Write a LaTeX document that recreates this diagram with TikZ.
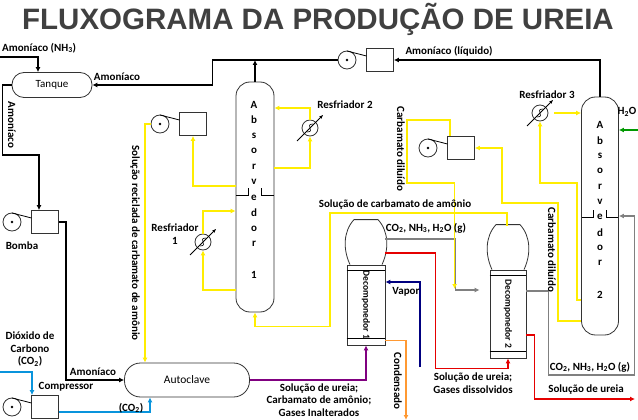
\documentclass[tikz,border=0pt]{standalone}
\usepackage{fontspec}
\setmainfont{Carlito}
\newfontfamily\titlefont{Liberation Sans}
\usetikzlibrary{positioning,calc,arrows.meta}
\tikzstyle{blk}=[line width=1.6pt, black, -{Latex[length=5pt,width=5pt]}]
\tikzstyle{ama}=[line width=1.6pt, yellow!95!orange, -{Latex[length=5pt,width=5pt]}]
\tikzstyle{cin}=[line width=1.6pt, gray, -{Latex[length=5pt,width=5pt]}]
\tikzstyle{equip}=[draw=black!80, thick, fill=white]
\tikzstyle{lbl}=[font=\fontsize{11}{12.5}\selectfont\bfseries, align=center, inner sep=1pt]
\tikzset{
  pics/bomba/.style={code={
    \node[equip, minimum width=27pt, minimum height=23pt] (-box) at (33,0) {};
    \node[equip, circle, minimum size=18pt, inner sep=0pt] (-wheel) at (0,0) {};
    \fill (0,0) circle (1.3pt);
    \draw[thick] (0,-9) -- (19.5,-4);
  }},
  pics/resfriador/.style={code={
    \node[equip, circle, minimum size=16pt, inner sep=0pt] (-c) at (0,0) {};
    \draw[semithick] (3,-4) .. controls (-6,-4) and (6,4) .. (-3,4);
    \draw[thick, -{Stealth[length=4pt]}] (-13,13) -- (13,-13);
  }},
  pics/domo/.style={code={
    \draw[equip] (-16,0) .. controls (-23,-15) and (-23,-33) .. (-12,-45) -- (12,-45)
      .. controls (23,-33) and (23,-15) .. (16,0);
  }},
}
\begin{document}
\begin{tikzpicture}[x=1pt, y=-1pt]
  \useasboundingbox (0,0) rectangle (638,420);
  \node[font=\titlefont\fontsize{29.5}{31}\selectfont\bfseries, text=black!75] (titulo) at (318,19) {FLUXOGRAMA DA PRODUÇÃO DE UREIA};

  % equipamentos
  \node[equip, rounded corners=12pt, minimum width=80pt, minimum height=25pt, font=\fontsize{11}{12}\selectfont] (tanque) at (52,85) {Tanque};
  \node[equip, rounded corners=16pt, minimum width=125pt, minimum height=34pt, font=\fontsize{11.5}{12}\selectfont] (autoclave) at (187,380) {Autoclave};
  \node[equip, rounded corners=14pt, minimum width=38pt, minimum height=230pt] (ab1) at (255,197) {};
  \node[equip, rounded corners=14pt, minimum width=37pt, minimum height=238pt] (ab2) at (600,216) {};
  \node[equip, minimum width=38pt, minimum height=80pt] (dc1) at (366,305) {};
  \node[equip, minimum width=36pt, minimum height=88pt] (dc2) at (508,314) {};
  \pic at (dc1.north) {domo};
  \pic at (dc2.north) {domo};
  \coordinate (dc2top) at (507,226);
  \foreach \d in {dc1,dc2}{
    \draw ([yshift=-6pt]\d.north west) -- ([yshift=-6pt]\d.north east);
    \draw ([yshift=7pt]\d.south west) -- ([yshift=7pt]\d.south east);
  }
  \node[lbl, font=\fontsize{9.5}{11}\selectfont\bfseries, rotate=-90] at (dc1) {Decomponedor 1};
  \node[lbl, font=\fontsize{9.5}{11}\selectfont\bfseries, rotate=-90] at (dc2) {Decomponedor 2};

  % pratos dos absorvedores
  \draw[thick] (236,195) -- (248,195) -- (248,188) (261,188) -- (261,195) -- (274,195);
  \draw[thick] (582,217) -- (593,217) -- (593,210) (606,210) -- (606,217) -- (618,217);
  \foreach \t [count=\i] in {A,b,s,o,r,v,e,d,o,r}
    \node[lbl] at (254,89+15.5*\i) {\t};
  \node[lbl] at (254,275) {1};
  \foreach \t [count=\i] in {A,b,s,o,r,v,e,d,o,r}
    \node[lbl] at (600,110+15.3*\i) {\t};
  \node[lbl] at (600,295) {2};

  \pic (p1) at (160,124) {bomba};
  \pic (pb) at (12,222) {bomba};
  \pic (pc) at (12,407) {bomba};
  \pic (pt) at (347,60) {bomba};
  \pic (p3) at (428,148) {bomba};
  \pic (r1) at (203,242) {resfriador};
  \pic (r2) at (310,128) {resfriador};
  \pic (r3) at (540,113) {resfriador};

  % amoniaco
  \coordinate (nh3in) at (0,57);
  \draw[blk] (nh3in) -| ([xshift=-14pt]tanque.north);
  \draw[blk] (pt-wheel.west) -- ++(-125,0) |- (tanque.east);
  \draw[blk] (ab1.north) -- (ab1.north |- pt-wheel);
  \draw[blk] (ab2.north) |- (pt-box.east);
  \draw[blk] (tanque.west) -- ++(-9,0) -- ++(0,70) -| ([xshift=-6pt]pb-box.north);
  \draw[blk] (pb-box.east) -- ++(7,0) |- (autoclave.west);

  % CO2
  \coordinate (co2in) at (0,372);
  \draw[blk, cyan!80!blue] (co2in) -| ([xshift=-13pt]pc-box.north);
  \draw[blk, cyan!80!blue] ([yshift=-5pt]pc-box.east) -| ([xshift=-37pt]autoclave.south);

  % decomponedores
  \coordinate (cond) at (406,420);
  \coordinate (vap) at (420,367);
  \coordinate (solu) at (635,399);
  \coordinate (h2o) at (638,130);
  \draw[blk, violet] (autoclave.east) -| (dc1.south);
  \draw[blk, orange!80] ([yshift=5pt]dc1.south east) -| (cond);
  \draw[blk, blue!50!black] (vap) |- ([yshift=23pt]dc1.east);
  \draw[blk, red!90!black] ([yshift=52pt]dc1.east) -- ++(50,0) |- ([yshift=-10pt]dc2.south) -- (dc2.south);
  \draw[blk, red!90!black] ([yshift=-21pt]dc2.east) -- ++(8,0) |- (solu);
  \draw[cin] ([yshift=66pt]dc1.east) -- ++(70,0) |- ([xshift=-10pt,yshift=24pt]dc2.west);
  \draw[cin] ([yshift=23pt]dc2.east) -- ++(22,0) -- ++(0,84) -- ++(86,0) |- (ab2.east);
  \draw[blk, green!60!black] (h2o) -- (ab2.east |- h2o);

  % carbamato
  \draw[ama] (p1-wheel.west) -- ++(-5,0) -| ([xshift=-42pt]autoclave.north);
  \draw[ama] ([yshift=11pt]ab1.west) -| (p1-box.south);
  \draw[ama] ([yshift=29pt]ab1.east) -| (r2-c.south);
  \draw[ama] (r2-c.north) |- ([yshift=89pt]ab1.east);
  \draw[ama] ([yshift=-93pt]ab1.west) -| (r1-c.south);
  \draw[ama] (r1-c.north) |- ([yshift=-14pt]ab1.west);
  \draw[ama] (dc2top) |- (330,213) |- ([yshift=-14pt]ab1.south) -- (ab1.south);
  \draw[ama] ([xshift=-11pt]p3-box.north) -- ++(0,-16) -| (407,183) -| ([xshift=-35pt,yshift=25pt]dc2.west);
  \draw[ama] ([yshift=-105pt]ab2.west) -- ++(-23,0) |- (502,203) |- (p3-box.east);
  \draw[ama] ([yshift=-84pt]ab2.west) -- ++(-4,0) |- (540,183) -- (r3-c.south);
  \draw[ama] ([xshift=6pt]r3-c.east) -- ([yshift=103pt]ab2.west);

  % textos
  \node[lbl, anchor=west] at (1,48) {Amoníaco (NH\textsubscript{3})};
  \node[lbl] at (117,77) {Amoníaco};
  \node[lbl, rotate=-90] at (12,125) {Amoníaco};
  \node[lbl] at (22,246) {Bomba};
  \node[lbl] at (30,349) {Dióxido de\\Carbono\\(CO\textsubscript{2})};
  \node[lbl] at (66,387) {Compressor};
  \node[lbl] at (93,372) {Amoníaco};
  \node[lbl] at (131,408) {(CO\textsubscript{2})};
  \node[lbl, rotate=-90] at (135,243) {Solução reciclada de carbamato de amônio};
  \node[lbl] at (175,234) {Resfriador\\1};
  \node[lbl] at (345,105) {Resfriador 2};
  \node[lbl] at (395,205) {Solução de carbamato de amônio};
  \node[lbl] at (426,228) {CO\textsubscript{2}, NH\textsubscript{3}, H\textsubscript{2}O (g)};
  \node[lbl] at (406,292) {Vapor};
  \node[lbl, rotate=-90] at (398,381) {Condensado};
  \node[lbl] at (473,383) {Solução de ureia;\\Gases dissolvidos};
  \node[lbl] at (319,400) {Solução de ureia;\\Carbamato de amônio;\\Gases Inalterados};
  \node[lbl, rotate=-90] at (401,149) {Carbamato diluído};
  \node[lbl, rotate=-90] at (552,250) {Carbamato diluído};
  \node[lbl] at (547,95) {Resfriador 3};
  \node[lbl] at (627,112) {H\textsubscript{2}O};
  \node[lbl] at (590,367) {CO\textsubscript{2}, NH\textsubscript{3}, H\textsubscript{2}O (g)};
  \node[lbl] at (586,390) {Solução de ureia};
  \node[lbl] at (449,51) {Amoníaco (líquido)};
\end{tikzpicture}
\end{document}
